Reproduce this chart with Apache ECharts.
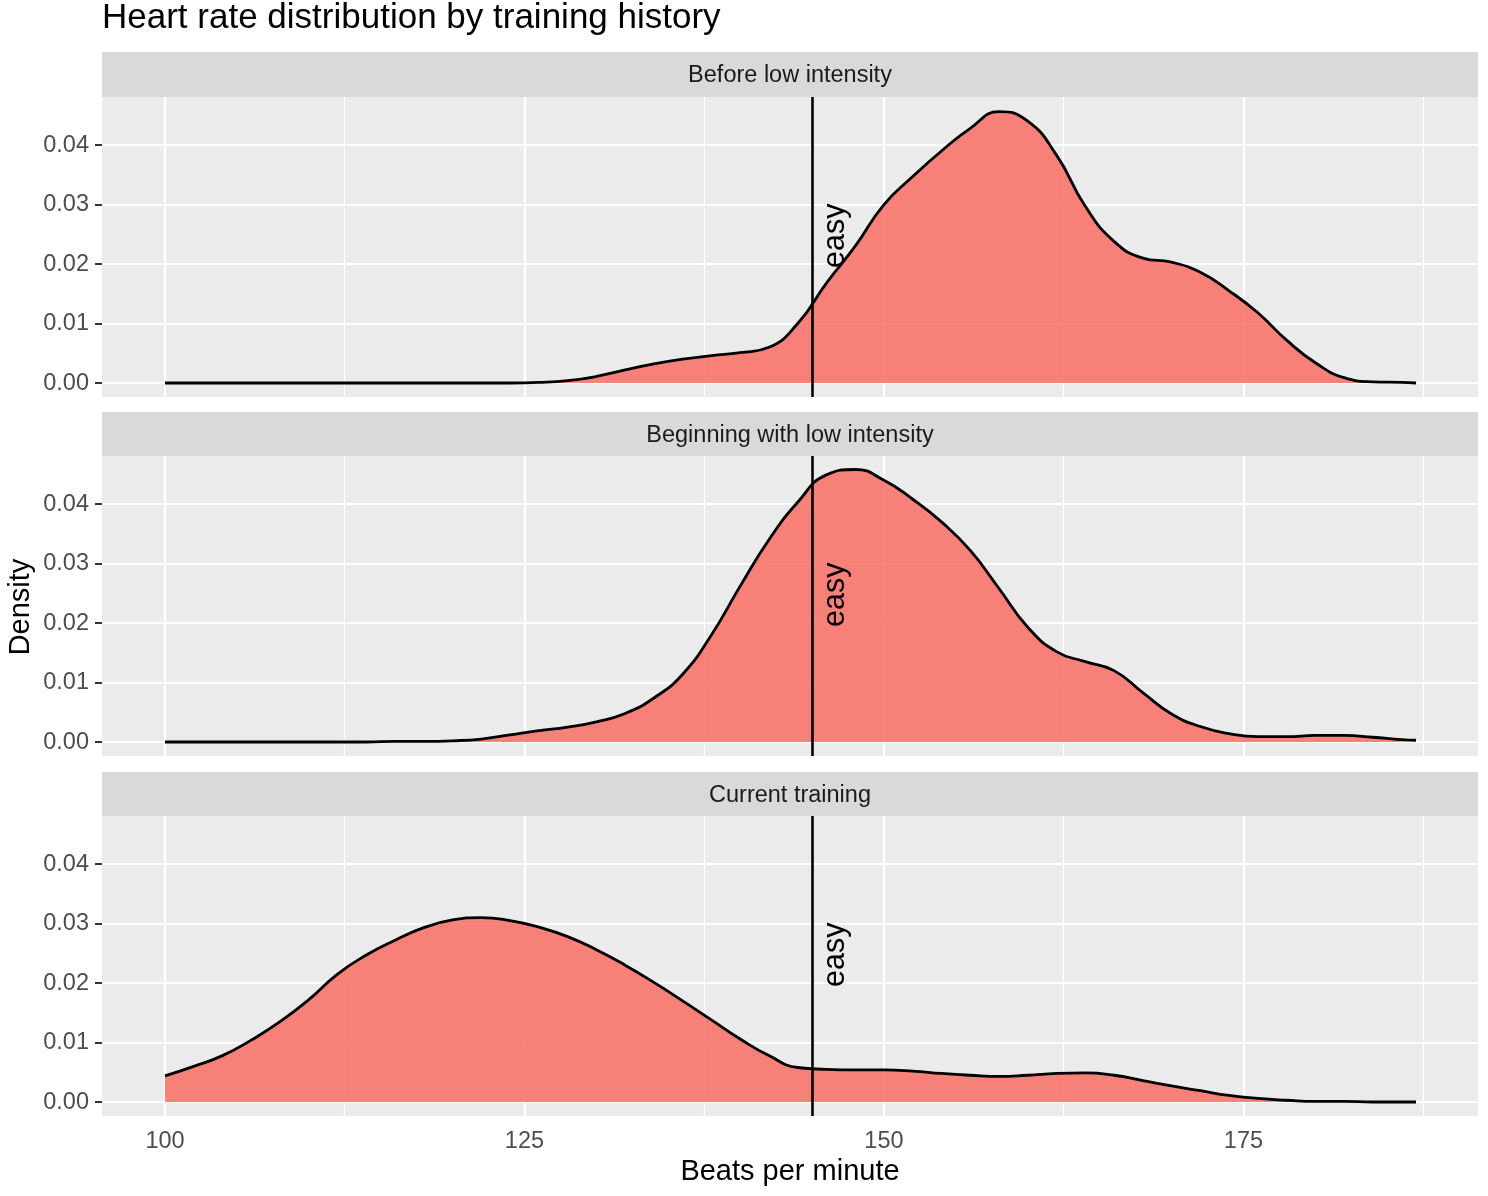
<!DOCTYPE html>
<html>
<head>
<meta charset="utf-8">
<title>Heart rate distribution by training history</title>
<script src="https://cdn.jsdelivr.net/npm/echarts@6/dist/echarts.min.js"></script>
<style>
  html, body { margin: 0; padding: 0; background: #fff; }
  #chart { width: 1488px; height: 1196px; }
</style>
</head>
<body>
<div id="chart"></div>
<script>
// heart rate grid (bpm) the densities were read on
const bpm = [100, 102, 104, 106, 108, 110, 112, 114, 116, 118, 120, 122, 124, 126, 128, 130,
  132, 134, 136, 138, 140, 142, 144, 146, 148, 150, 152, 154, 156, 158, 160, 162, 164, 166,
  168, 170, 172, 174, 176, 178, 180, 182, 184, 186, 187];

// density per facet
const beforeLow = [0, 0, 0, 0, 0, 0, 0, 0, 0, 0, 0, 0, 0, 0.0001, 0.0004, 0.0011,
  0.0022, 0.0032, 0.0040, 0.0046, 0.0051, 0.0060, 0.0100, 0.0168, 0.0230, 0.0300, 0.0347, 0.0390, 0.0428, 0.0456, 0.0440, 0.0383, 0.0297, 0.0238,
  0.0210, 0.0203, 0.0186, 0.0155, 0.0118, 0.0072, 0.0034, 0.0009, 0.0002, 0.0001, 0];
const beginningLow = [0, 0, 0, 0, 0, 0, 0, 0, 0.0001, 0.0001, 0.0002, 0.0005, 0.0012, 0.0019, 0.0025, 0.0034,
  0.0048, 0.0074, 0.0114, 0.0180, 0.0262, 0.0340, 0.0403, 0.0449, 0.0458, 0.0440, 0.0408, 0.0370, 0.0322, 0.0258, 0.0193, 0.0152, 0.0135, 0.0120,
  0.0083, 0.0047, 0.0026, 0.0014, 0.0009, 0.0009, 0.0011, 0.0011, 0.0008, 0.0004, 0.0003];
const currentTraining = [0.0044, 0.0060, 0.0078, 0.0104, 0.0135, 0.0172, 0.0215, 0.0247, 0.0272, 0.0293, 0.0306, 0.0310, 0.0305, 0.0294, 0.0278, 0.0256,
  0.0230, 0.0201, 0.0170, 0.0138, 0.0106, 0.0078, 0.0058, 0.0055, 0.0054, 0.0054, 0.0052, 0.0048, 0.0045, 0.0043, 0.0045, 0.0048, 0.0049, 0.0045,
  0.0036, 0.0027, 0.0019, 0.0011, 0.0006, 0.0003, 0.0001, 0.0001, 0, 0, 0];

const facetNames = ['Before low intensity', 'Beginning with low intensity', 'Current training'];
const facetValues = [beforeLow, beginningLow, currentTraining];

const easyBpm = 145;          // vertical reference line
const easyLabelY = 0.02;      // where the "easy" label starts

const xTicks = [100, 125, 150, 175];
const xMinor = [112.5, 137.5, 162.5, 187.5];
const yTicks = [0, 0.01, 0.02, 0.03, 0.04];
const yMinor = [0.005, 0.015, 0.025, 0.035, 0.045];

const xMin = 95.62, xMax = 191.31;
const yMin = -0.00235, yMax = 0.04807;

const FONT = '"Liberation Sans", Arial, Helvetica, sans-serif';
const panelTops = [97, 456, 816];
const panelH = 300;
const panelLeft = 102, panelW = 1376;

var chart = echarts.init(document.getElementById('chart'));

var grids = [], xAxes = [], yAxes = [], series = [];

facetNames.forEach(function (name, i) {
  var last = i === facetNames.length - 1;
  grids.push({
    left: panelLeft, top: panelTops[i], width: panelW, height: panelH,
    show: true, backgroundColor: '#EBEBEB', borderWidth: 0
  });
  xAxes.push({
    gridIndex: i, type: 'value', min: xMin, max: xMax, show: last,
    axisLine: { show: false },
    splitLine: { show: false },
    axisTick: { show: last, length: 7, customValues: xTicks, lineStyle: { color: '#333333', width: 2 } },
    axisLabel: { show: last, customValues: xTicks, margin: 14, fontSize: 23.5, color: '#4D4D4D', fontFamily: FONT }
  });
  yAxes.push({
    gridIndex: i, type: 'value', min: yMin, max: yMax,
    axisLine: { show: false },
    splitLine: { show: false },
    axisTick: { show: true, length: 7, customValues: yTicks, lineStyle: { color: '#333333', width: 2 } },
    axisLabel: {
      customValues: yTicks, margin: 13, fontSize: 23.5, color: '#4D4D4D', fontFamily: FONT,
      formatter: function (v) { return v.toFixed(2); }
    }
  });

  // white grid lines, drawn under the density
  var gridLines = []
    .concat(xTicks.map(function (v) { return { xAxis: v, lineStyle: { width: 2.2 } }; }))
    .concat(xMinor.map(function (v) { return { xAxis: v, lineStyle: { width: 1.1 } }; }))
    .concat(yTicks.map(function (v) { return { yAxis: v, lineStyle: { width: 2.2 } }; }))
    .concat(yMinor.map(function (v) { return { yAxis: v, lineStyle: { width: 1.1 } }; }));
  series.push({
    type: 'line', xAxisIndex: i, yAxisIndex: i, data: [], z: 1, silent: true,
    markLine: {
      silent: true, z: 1, symbol: ['none', 'none'], label: { show: false },
      lineStyle: { color: '#FFFFFF', type: 'solid' },
      emphasis: { disabled: true },
      data: gridLines
    }
  });

  series.push({
    name: name, type: 'line', xAxisIndex: i, yAxisIndex: i, z: 2,
    data: bpm.map(function (x, k) { return [x, facetValues[i][k]]; }),
    symbol: 'none', smooth: 0.5,
    lineStyle: { color: '#000000', width: 2.8 },
    areaStyle: { color: '#F8766D', opacity: 0.9 },
    markLine: {
      silent: true, z: 5, symbol: ['none', 'none'], label: { show: false },
      lineStyle: { color: '#000000', type: 'solid', width: 2.6 },
      emphasis: { disabled: true },
      data: [{ xAxis: easyBpm }]
    }
  });
});

chart.setOption({
  animation: false,
  backgroundColor: '#FFFFFF',
  grid: grids,
  xAxis: xAxes,
  yAxis: yAxes,
  series: series
});

// strips, titles and the "easy" labels
var graphics = [];
graphics.push({
  type: 'text', x: 102, y: 18.5, silent: true,
  style: { text: 'Heart rate distribution by training history', fontSize: 35, fontFamily: FONT,
    fill: '#000000', align: 'left', verticalAlign: 'middle' }
});
facetNames.forEach(function (name, i) {
  var stripH = i === 0 ? 45 : 44;
  graphics.push({
    type: 'rect', silent: true, z: 10,
    shape: { x: panelLeft, y: panelTops[i] - stripH, width: panelW, height: stripH },
    style: { fill: '#D9D9D9' }
  });
  graphics.push({
    type: 'text', silent: true, z: 11, x: panelLeft + panelW / 2, y: panelTops[i] - stripH / 2 + 1.5,
    style: { text: name, fontSize: 23.5, fontFamily: FONT, fill: '#1A1A1A', align: 'center', verticalAlign: 'middle' }
  });
  var p = chart.convertToPixel({ gridIndex: i }, [easyBpm, easyLabelY]);
  graphics.push({
    type: 'text', silent: true, z: 12, x: p[0] + 24, y: p[1] + 4, rotation: Math.PI / 2,
    style: { text: 'easy', fontSize: 30.5, fontFamily: FONT, fill: '#000000', align: 'left', verticalAlign: 'middle' }
  });
});
graphics.push({
  type: 'text', silent: true, x: panelLeft + panelW / 2, y: 1171.5,
  style: { text: 'Beats per minute', fontSize: 29, fontFamily: FONT, fill: '#000000', align: 'center', verticalAlign: 'middle' }
});
graphics.push({
  type: 'text', silent: true, x: 21, y: 607, rotation: Math.PI / 2,
  style: { text: 'Density', fontSize: 29, fontFamily: FONT, fill: '#000000', align: 'center', verticalAlign: 'middle' }
});

chart.setOption({ graphic: graphics });
</script>
</body>
</html>
